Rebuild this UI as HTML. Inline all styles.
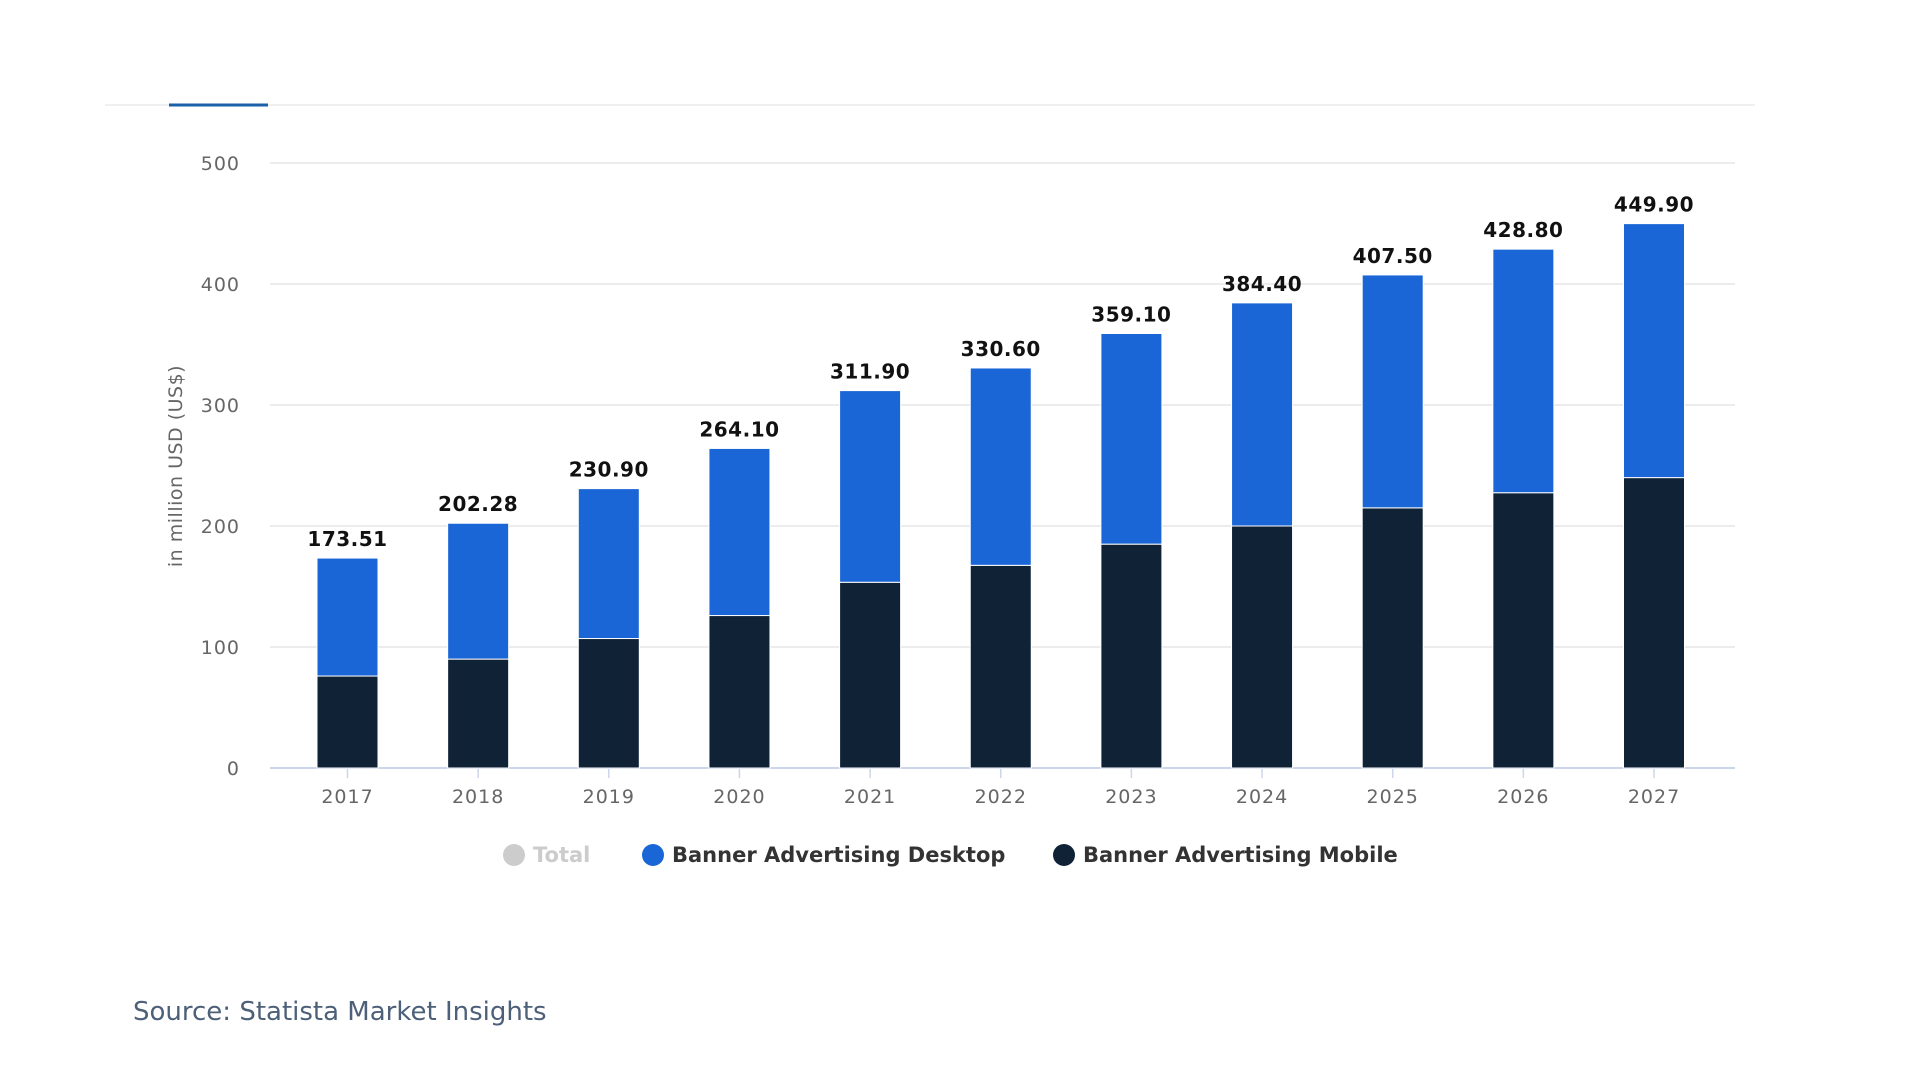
<!DOCTYPE html>
<html><head><meta charset="utf-8"><style>
html,body{margin:0;padding:0;background:#fff;width:1920px;height:1080px;overflow:hidden}
svg{display:block;font-family:"DejaVu Sans","Liberation Sans",sans-serif}
</style></head><body>
<svg id="chart" width="1920" height="1080" viewBox="0 0 1920 1080" xmlns="http://www.w3.org/2000/svg">
<line x1="105" y1="105" x2="1755" y2="105" stroke="#eef0f2" stroke-width="2"/>
<line x1="169" y1="105" x2="268" y2="105" stroke="#1b5fa8" stroke-width="3"/>
<g id="grid"></g><g id="bars"></g><g id="labels"></g>
<text transform="translate(182,466) rotate(-90)" text-anchor="middle" font-size="19" fill="#666" letter-spacing="0.5">in million USD (US$)</text>
<g font-size="21" font-weight="bold">
<g><circle cx="514" cy="855" r="11" fill="#ccc"/><text x="533" y="862" fill="#ccc">Total</text></g>
<g><circle cx="653" cy="855" r="11" fill="#1b66d6"/><text x="672" y="862" fill="#333">Banner Advertising Desktop</text></g>
<g><circle cx="1064" cy="855" r="11" fill="#0f2236"/><text x="1083" y="862" fill="#333">Banner Advertising Mobile</text></g>
</g>
<text x="133" y="1020" font-size="26" fill="#4d6079">Source: Statista Market Insights</text>
</svg>
<script>
const years=["2017","2018","2019","2020","2021","2022","2023","2024","2025","2026","2027"];
const totals=[173.51,202.28,230.90,264.10,311.90,330.60,359.10,384.40,407.50,428.80,449.90];
const mobile=[76,90,107,126,153.5,167.5,185,200,215,227.5,240];
const totalLabels=["173.51","202.28","230.90","264.10","311.90","330.60","359.10","384.40","407.50","428.80","449.90"];
const yTicks=[0,100,200,300,400,500];
const NS="http://www.w3.org/2000/svg";
const y=v=>768-v*1.21;
const xc=i=>347.5+i*130.65;
const bw=61;
function mk(tag,attrs,parent){const e=document.createElementNS(NS,tag);for(const k in attrs)e.setAttribute(k,attrs[k]);parent.appendChild(e);return e;}
const grid=document.getElementById('grid'),bars=document.getElementById('bars'),labels=document.getElementById('labels');
yTicks.forEach(t=>{
  const l=mk('line',{x1:270,x2:1735,y1:y(t),y2:y(t),stroke:t===0?'#ccd6eb':'#e6e6e6','stroke-width':t===0?2:1.5},grid);
  
  
  const tx=mk('text',{x:240,y:y(t)+7,'text-anchor':'end','font-size':19,fill:'#666','letter-spacing':1},grid);
  tx.textContent=t;
  
  
});
years.forEach((yr,i)=>{
  const x=xc(i);
  const tk=mk('line',{x1:x,x2:x,y1:768,y2:778,stroke:'#ccd6eb','stroke-width':1.5},grid);
  
  
  const m=mk('rect',{x:x-bw/2,y:y(mobile[i]),width:bw,height:y(0)-y(mobile[i]),fill:'#0f2236',stroke:'#fff','stroke-width':1},bars);
  
  
  const d=mk('rect',{x:x-bw/2,y:y(totals[i]),width:bw,height:y(mobile[i])-y(totals[i]),fill:'#1b66d6',stroke:'#fff','stroke-width':1},bars);
  
  
  const lb=mk('text',{x:x,y:y(totals[i])-12,'text-anchor':'middle','font-size':20,'font-weight':'bold',fill:'#111','letter-spacing':0.5},labels);
  lb.textContent=totalLabels[i];
  
  
  const xl=mk('text',{x:x,y:803,'text-anchor':'middle','font-size':19,fill:'#666','letter-spacing':1},labels);
  xl.textContent=yr;
  
  
});
</script>
</body></html>
